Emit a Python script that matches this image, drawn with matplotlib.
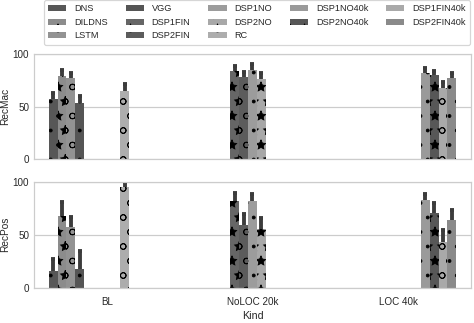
import numpy as np
import matplotlib as mpl
mpl.use('Agg')
import matplotlib.pyplot as plt

mpl.rcParams['font.family'] = ['Liberation Sans', 'DejaVu Sans']
mpl.rcParams['hatch.linewidth'] = 0.7

# categories on the x axis and the models used as hue
kinds = ['BL', 'NoLOC 20k', 'LOC 40k']
models = ['DNS', 'DILDNS', 'LSTM', 'VGG', 'DSP1FIN', 'DSP2FIN', 'DSP1NO', 'DSP2NO', 'RC',
          'DSP1NO40k', 'DSP2NO40k', 'DSP1FIN40k', 'DSP2FIN40k']
model_kind = ['BL', 'BL', 'BL', 'BL', 'NoLOC 20k', 'NoLOC 20k', 'NoLOC 20k', 'NoLOC 20k', 'BL',
              'LOC 40k', 'LOC 40k', 'LOC 40k', 'LOC 40k']

# mean and error (half width) per model
rec_mac = [57, 79, 77, 54, 84, 78.5, 85, 76.5, 65, 82, 80, 67.5, 77]
rec_mac_err = [6.5, 6.5, 5.5, 6.3, 5, 5, 5.5, 5.5, 7, 4.7, 4, 5.7, 5]
rec_pos = [16, 68, 57, 18, 81.5, 59.5, 81.5, 55.5, 95, 83, 70.5, 43.5, 63.5]
rec_pos_err = [11, 12.5, 9.5, 17, 8, 10, 7, 10, 5, 5.7, 9.5, 11, 9.5]

grays = ['#575757', '#8c8c8c', '#939393', '#555555', '#666666', '#5c5c5c', '#9c9c9c',
         '#a8a8a8', '#adadad', '#9a9a9a', '#575757', '#a9a9a9', '#8a8a8a']
hatches = ['.', '*', 'o']

dpi = 87
fig = plt.figure(figsize=(474.0/dpi, 323.0/dpi), dpi=dpi)
ax_top = fig.add_axes([0.0717, 0.5077, 0.922, 0.3239])
ax_bot = fig.add_axes([0.0717, 0.1093, 0.922, 0.3282])

n = len(models)
w = 0.8/n
ticksize = 8.2

def draw(ax, vals, errs, ylabel):
    handles = []
    for i, m in enumerate(models):
        x = kinds.index(model_kind[i]) - 0.4 + (i + 0.5)*w
        b = ax.bar(x, vals[i], w, color=grays[i], edgecolor='black', linewidth=0,
                   hatch=hatches[i % 3], label=m, zorder=2)
        ax.errorbar(x, vals[i], yerr=errs[i], color='#3c3c3c', lw=3.2, capsize=1.4,
                    capthick=3.2, zorder=1.5)
        handles.append(b)
    ax.set_xlim(-0.5, 2.5)
    ax.set_ylim(0, 100)
    ax.set_yticks([0, 50, 100])
    ax.set_xticks(range(len(kinds)))
    ax.yaxis.grid(True, color='#cccccc', lw=1.0, zorder=0)
    ax.set_axisbelow(True)
    for s in ax.spines.values():
        s.set_color('#cccccc')
        s.set_linewidth(1.0)
    ax.tick_params(length=0, labelsize=ticksize, colors='#262626', pad=4)
    ax.set_ylabel(ylabel, fontsize=8.4, color='#262626', labelpad=2)
    return handles

hs = draw(ax_top, rec_mac, rec_mac_err, 'RecMac')
draw(ax_bot, rec_pos, rec_pos_err, 'RecPos')

ax_top.set_xticklabels([])
ax_bot.set_xticklabels(kinds)
ax_bot.tick_params(axis='x', pad=8)
ax_bot.set_xlabel('Kind', fontsize=8.8, color='#262626', labelpad=3)

leg = fig.legend(handles=hs, loc='lower left', bbox_to_anchor=(0.093, 0.862), ncol=5,
                 fontsize=7.5, labelspacing=0.5, columnspacing=2.0, handletextpad=0.85,
                 frameon=True, fancybox=True, borderpad=0.45, borderaxespad=0)
leg.get_frame().set_edgecolor('#cccccc')
for t in leg.get_texts():
    t.set_color('#262626')

fig.savefig('out.png', dpi=dpi)
